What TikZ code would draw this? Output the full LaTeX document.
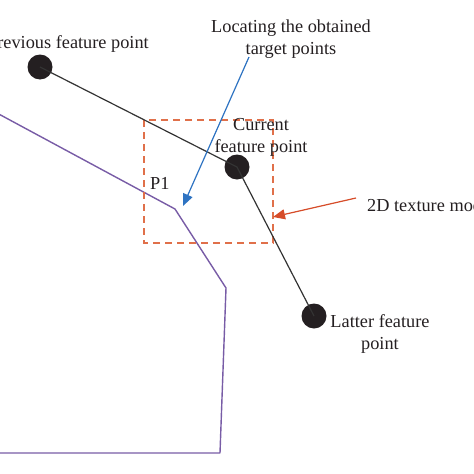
\documentclass[tikz,border=0pt]{standalone}
\usepackage{fontspec}
\setmainfont{Liberation Serif}
\usetikzlibrary{arrows.meta}

\begin{document}
\begin{tikzpicture}[x = 1pt,
                    y = -1pt,
                    font = \fontsize{18.3}{22}\selectfont]

  \useasboundingbox (0, 0) rectangle (474, 474);
  \clip (0, 0) rectangle (474, 474);

  % COLORS
  \definecolor{textcolor_f}{rgb}{ 0.14,0.12,0.13 }
  \definecolor{edgecolor_f}{rgb}{ 0.2,0.2,0.2 }
  \definecolor{outlinecolor_f}{rgb}{ 0.47,0.36,0.65 }
  \definecolor{windowcolor_f}{rgb}{ 0.88,0.44,0.29 }
  \definecolor{markcolor_f}{rgb}{ 0.84,0.30,0.16 }
  \definecolor{pointercolor_f}{rgb}{ 0.18,0.45,0.76 }


  % STYLES
  \tikzstyle{featurestyle_f} = [circle, fill=textcolor_f, inner sep=0pt, minimum size=25pt]
  \tikzstyle{labelstyle_f} = [text=textcolor_f, inner sep=0pt, align=center]
  \tikzstyle{trackstyle_f} = [draw=edgecolor_f, line width=1.2pt]
  \tikzstyle{outlinestyle_f} = [draw=outlinecolor_f, line width=1.4pt, line join=round]
  \tikzstyle{windowstyle_f} = [draw=windowcolor_f, line width=1.4pt, dash pattern=on 7pt off 5pt]
  \tikzstyle{pointerstyle_f} = [line width=1.2pt, -{Triangle[length=12pt, width=10pt]}]


  % DEF POINTS
  \coordinate (o0_f) at (-5, 112);
  \coordinate (o1_f) at (175, 209);
  \coordinate (o2_f) at (226, 288);
  \coordinate (o3_f) at (220, 453);
  \coordinate (o4_f) at (-5, 453);
  \coordinate (w0_f) at (144, 120);
  \coordinate (w1_f) at (273, 243);
  \coordinate (loc_tail_f) at (249, 57);
  \coordinate (loc_head_f) at (183, 206);
  \coordinate (tex_tail_f) at (356, 198);
  \coordinate (tex_head_f) at (273, 217);


  % OUTLINE and WINDOW
  \draw[outlinestyle_f] (o0_f) -- (o1_f) -- (o2_f) -- (o3_f) -- (o4_f);
  \draw[windowstyle_f] (w0_f) rectangle (w1_f);


  % FEATURE POINTS
  \node[featurestyle_f] (prev_f) at (40, 67) {};
  \node[featurestyle_f] (curr_f) at (237, 167) {};
  \node[featurestyle_f] (next_f) at (314, 316) {};

  \draw[trackstyle_f] (prev_f.center) -- (curr_f.center) -- (next_f.center);


  % LABELS
  \node[labelstyle_f, anchor=base east] (prev_label_f) at (149, 48) {Previous feature point};
  \node[labelstyle_f] (curr_label_f) at (261, 137) {Current\\feature point};
  \node[labelstyle_f] (next_label_f) at (380, 334) {Latter feature\\point};
  \node[labelstyle_f] (loc_label_f) at (291, 39) {Locating the obtained\\target points};
  \node[labelstyle_f, anchor=base west] (tex_label_f) at (367, 211) {2D texture model};
  \node[labelstyle_f, anchor=base west] (p1_label_f) at (150, 189) {P1};


  % POINTERS
  \draw[pointerstyle_f, draw=pointercolor_f, fill=pointercolor_f] (loc_tail_f) -- (loc_head_f);
  \draw[pointerstyle_f, draw=markcolor_f, fill=markcolor_f] (tex_tail_f) -- (tex_head_f);

\end{tikzpicture}
\end{document}
